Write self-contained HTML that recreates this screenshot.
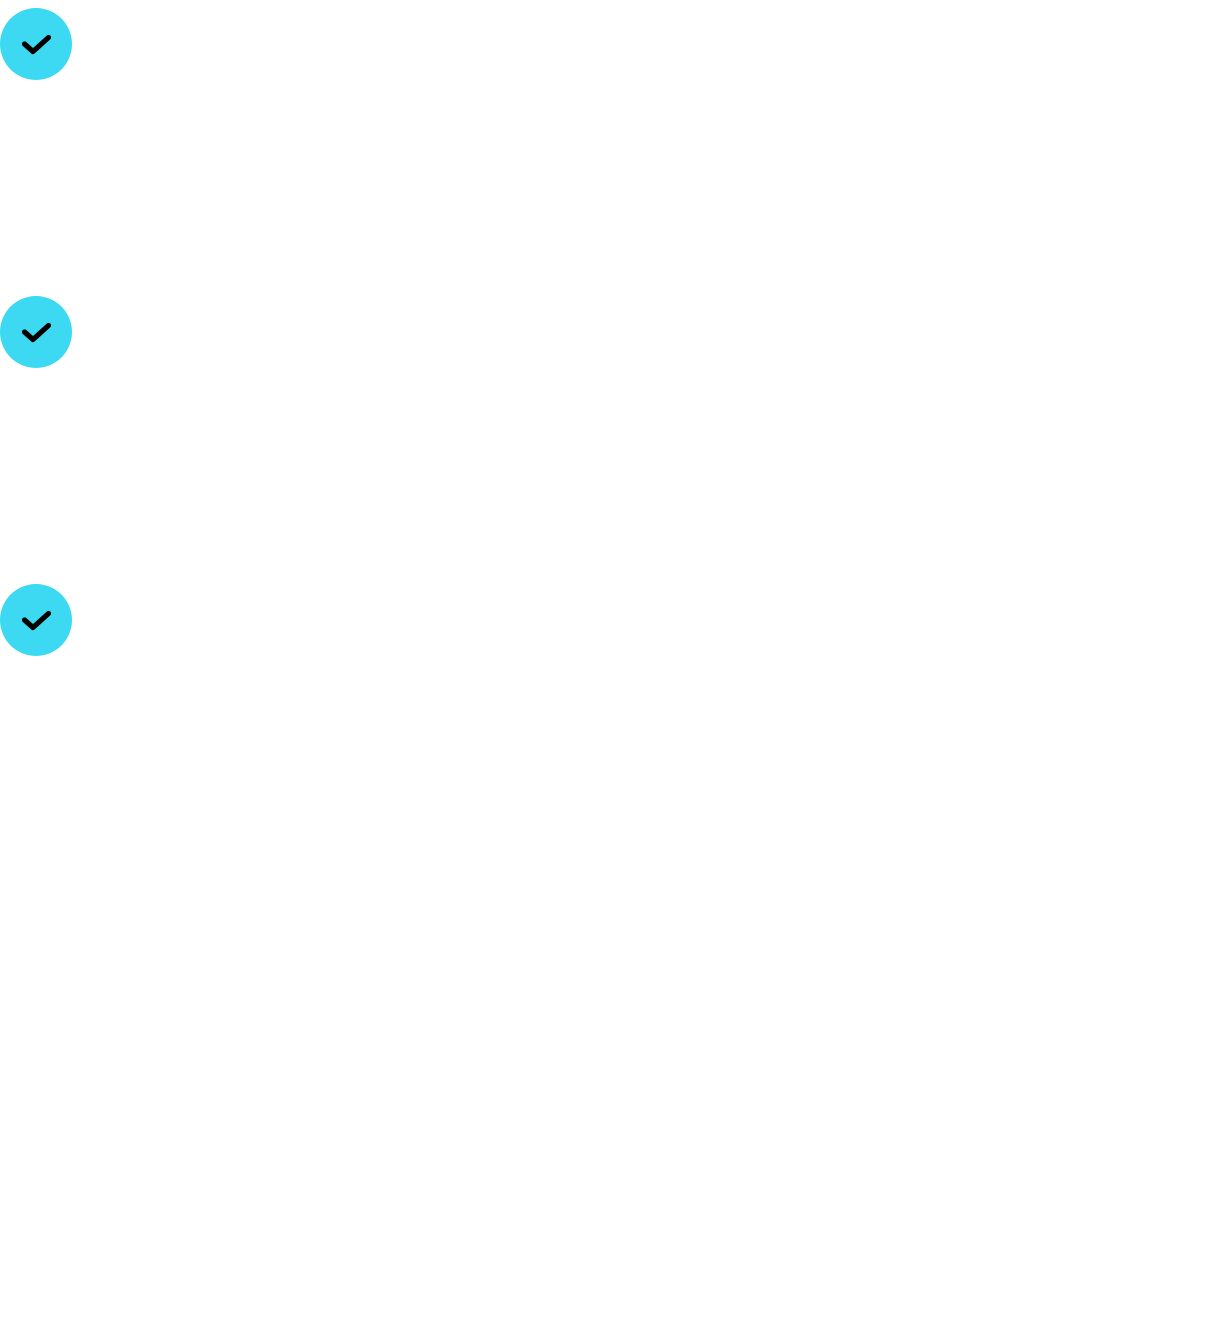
<!DOCTYPE html>
<html><head><meta charset="utf-8"><style>html,body{margin:0;padding:0;background:#fff;width:1224px;height:1320px;overflow:hidden}</style></head>
<body>
<svg width="1224" height="1320" xmlns="http://www.w3.org/2000/svg">
<g>
<circle cx="36" cy="44" r="36" fill="#3dd8f1"/>
<polyline points="24.5,44 33,51.5 48.5,37.5" fill="none" stroke="#000" stroke-width="5.2" stroke-linecap="round" stroke-linejoin="round"/>
</g>
<g transform="translate(0,288)">
<circle cx="36" cy="44" r="36" fill="#3dd8f1"/>
<polyline points="24.5,44 33,51.5 48.5,37.5" fill="none" stroke="#000" stroke-width="5.2" stroke-linecap="round" stroke-linejoin="round"/>
</g>
<g transform="translate(0,576)">
<circle cx="36" cy="44" r="36" fill="#3dd8f1"/>
<polyline points="24.5,44 33,51.5 48.5,37.5" fill="none" stroke="#000" stroke-width="5.2" stroke-linecap="round" stroke-linejoin="round"/>
</g>
</svg>
</body></html>
